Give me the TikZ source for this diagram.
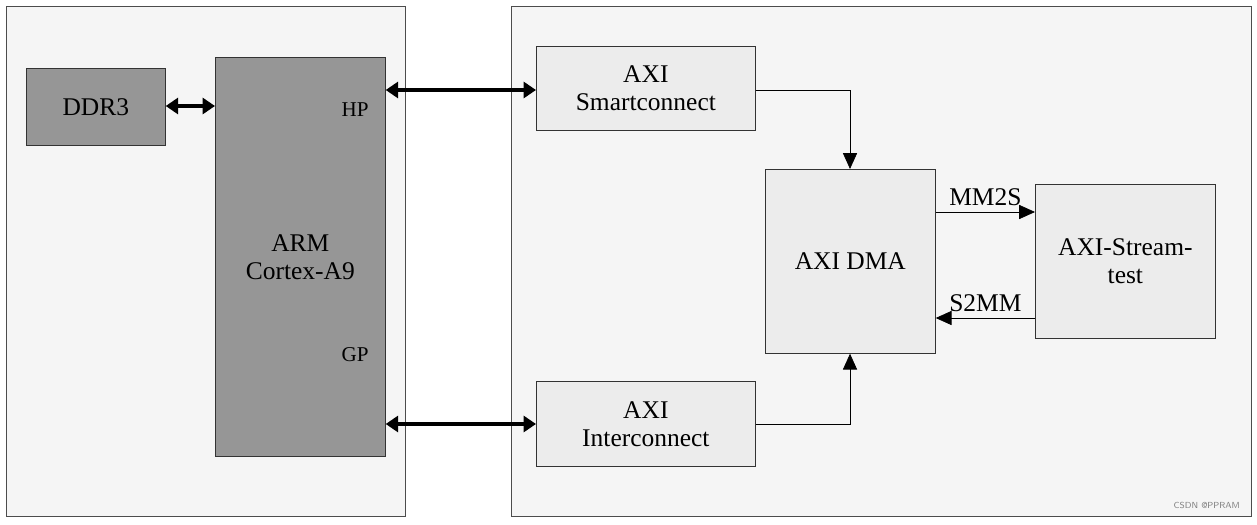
\documentclass[tikz,border=0pt]{standalone}
\usepackage{fontspec}
\setmainfont{Liberation Serif}
\usetikzlibrary{arrows.meta,positioning}
\colorlet{panelFill}{gray!8}
\colorlet{darkBox}{black!41}
\colorlet{lightBox}{gray!15}
\tikzset{>=Triangle,
  panel/.style={draw=gray!60!black,fill=panelFill},
  blk/.style={draw=black!80,fill=lightBox,align=center,font=\fontsize{14.5}{16}\selectfont,inner sep=0pt},
  dark/.style={blk,fill=darkBox},
  bus/.style={{Triangle[length=7pt,width=9pt]}-{Triangle[length=7pt,width=9pt]},line width=2.5pt},
  sig/.style={-{Triangle[length=9pt,width=8pt]},thin}}
\begin{document}
\begin{tikzpicture}[x=0.02cm,y=-0.02cm]
  \useasboundingbox (0,0) rectangle (1257,524);
  % panels
  \draw[panel] (6,6) rectangle (405,516);
  \draw[panel] (511,6) rectangle (1251,516);
  % blocks
  \node[dark,minimum width=139*0.02cm,minimum height=77*0.02cm,anchor=north west] (ddr) at (26,68) {DDR3};
  \node[dark,minimum width=170*0.02cm,minimum height=399*0.02cm,anchor=north west] (arm) at (215,57) {ARM\\Cortex-A9};
  \node[font=\fontsize{12}{14}\selectfont] (hp) at (355,110) {HP};
  \node[font=\fontsize{12}{14}\selectfont] (gp) at (355,355) {GP};
  \node[blk,minimum width=219*0.02cm,minimum height=84*0.02cm,anchor=north west] (smart) at (536,46) {AXI\\Smartconnect};
  \node[blk,minimum width=219*0.02cm,minimum height=85*0.02cm,anchor=north west] (inter) at (536,381) {AXI\\Interconnect};
  \node[blk,minimum width=170*0.02cm,minimum height=184*0.02cm,anchor=north west] (dma) at (765,169) {AXI DMA};
  \node[blk,minimum width=180*0.02cm,minimum height=154*0.02cm,anchor=north west] (test) at (1035,184) {AXI-Stream-\\test};
  % buses
  \draw[bus] (ddr.east |- 0,106) -- (arm.west |- 0,106);
  \draw[bus] (arm.east |- 0,90) -- (smart.west |- 0,90);
  \draw[bus] (arm.east |- 0,424) -- (inter.west |- 0,424);
  % control paths
  \draw[sig] (smart.east |- 0,90) -| (dma.north -| 850,0);
  \draw[sig] (inter.east |- 0,424) -| (dma.south -| 850,0);
  \draw[sig] (dma.east |- 0,212) -- node[above,font=\fontsize{14.5}{16}\selectfont] {MM2S} (test.west |- 0,212);
  \draw[sig] (test.west |- 0,318) -- node[above,font=\fontsize{14.5}{16}\selectfont] {S2MM} (dma.east |- 0,318);
  \node[font=\fontsize{5}{6}\selectfont\sffamily,text=gray,anchor=south east] (mark) at (1246,515) {CSDN @PPRAM};
\end{tikzpicture}
\end{document}
